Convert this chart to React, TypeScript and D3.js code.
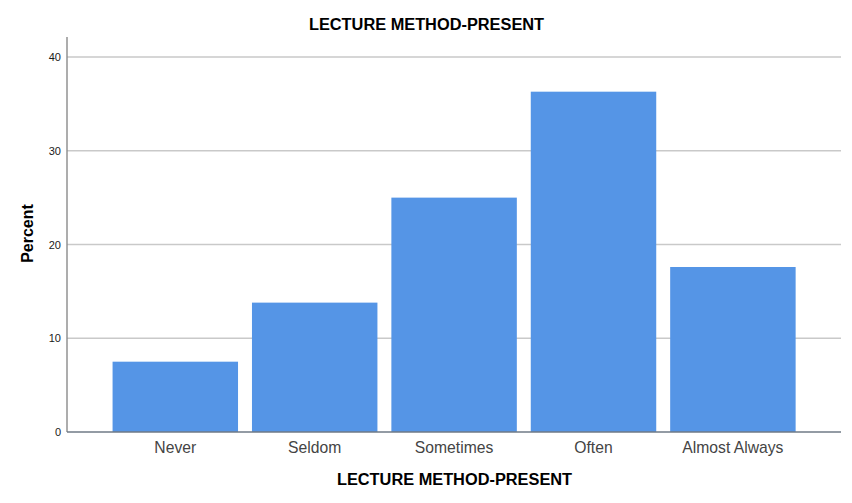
import React from "react";
import * as d3 from "d3";

const categories = ["Never", "Seldom", "Sometimes", "Often", "Almost Always"];
const percents = [7.5, 13.8, 25.0, 36.3, 17.6];
const yTicks = [0, 10, 20, 30, 40];
const chartTitle = "LECTURE METHOD-PRESENT";
const xTitle = "LECTURE METHOD-PRESENT";
const yTitle = "Percent";

const W = 852;
const H = 503;
const font = "Arial, 'Liberation Sans', sans-serif";

export default function App() {
  const x = d3.scaleBand<string>().domain(categories).range([105.6, 802.6]).paddingInner(0.1).paddingOuter(0.05);
  const y = d3.scaleLinear().domain([0, 40]).range([432, 57]);
  const axisLeft = 67;
  const axisRight = 841;
  const axisTop = 37;
  return (
    <svg width={W} height={H} viewBox={`0 0 ${W} ${H}`} style={{ position: "fixed", left: 0, top: 0, background: "#fff" }} fontFamily={font}>
      <text x={426.5} y={30} textAnchor="middle" fontSize={16.35} fontWeight={700} fill="#000">{chartTitle}</text>
      {yTicks.filter(t => t > 0).map(t => (
        <line key={t} x1={axisLeft} x2={axisRight} y1={y(t)} y2={y(t)} stroke="#c9c9c9" strokeWidth={1.6} />
      ))}
      {percents.map((v, i) => (
        <rect key={categories[i]} x={x(categories[i])} y={y(v)} width={x.bandwidth()} height={y(0) - y(v)} fill="#5595e6" />
      ))}
      <line x1={axisLeft} x2={axisLeft} y1={axisTop} y2={y(0)} stroke="#8a8a8a" strokeWidth={1.4} />
      <line x1={axisLeft} x2={axisRight} y1={y(0)} y2={y(0)} stroke="#6f7a86" strokeWidth={1.4} />
      {yTicks.map(t => (
        <text key={t} x={61} y={y(t) + 4} textAnchor="end" fontSize={11} fill="#1a1a1a">{t}</text>
      ))}
      {categories.map(c => (
        <text key={c} x={x(c)! + x.bandwidth() / 2} y={453} textAnchor="middle" fontSize={15.7} fill="#444">{c}</text>
      ))}
      <text x={454.5} y={485} textAnchor="middle" fontSize={16.35} fontWeight={700} fill="#000">{xTitle}</text>
      <text transform="translate(32.5,233.5) rotate(-90)" textAnchor="middle" fontSize={16} fontWeight={700} fill="#000">{yTitle}</text>
    </svg>
  );
}
